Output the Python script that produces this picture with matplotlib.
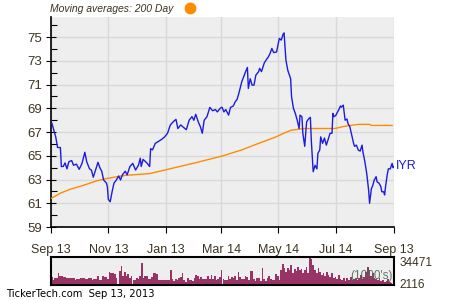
import matplotlib
matplotlib.use('Agg')
import matplotlib.pyplot as plt
from matplotlib.lines import Line2D
import numpy as np
import pandas as pd

# IYR price (days after Sep 13 2013, close)
price_days = [1, 2, 5, 7, 10, 11, 13, 15, 17, 19, 22, 24, 27, 30, 33, 36, 38, 41, 43, 45,
              47, 50, 52, 54, 56, 59, 60, 61, 63, 65, 67, 69, 72, 74, 76, 79, 81, 84, 87, 90,
              93, 95, 96, 98, 102, 105, 106, 108, 111, 114, 118, 121, 124, 127, 130, 133, 135, 138, 141, 144,
              147, 150, 152, 154, 157, 159, 161, 163, 166, 169, 172, 175, 177, 180, 182, 184, 186, 189, 191, 194,
              196, 198, 200, 203, 205, 207, 209, 210, 212, 214, 216, 218, 221, 222, 224, 227, 230, 231, 233, 235,
              237, 240, 243, 245, 247, 248, 250, 252, 255, 256, 258, 260, 262, 264, 265, 267, 268, 270, 272, 274,
              276, 277, 279, 281, 283, 284, 286, 287, 289, 291, 293, 295, 297, 299, 300, 301, 303, 306, 308, 309,
              311, 313, 315, 316, 318, 320, 322, 323, 325, 327, 329, 331, 332, 334, 336, 338, 339, 341, 342, 344,
              346, 347, 349, 351, 352, 354, 355, 356, 358, 359, 361, 363, 364, 365]
price = [67.73, 67.45, 66.6, 65.7, 65.7, 64.1, 64.1, 64.4, 63.9, 64.5, 64.6, 64.2, 64.3, 63.86, 64.36, 65.3, 64.5, 63.9, 63.8, 63.2,
         63.7, 64.45, 64.0, 63.7, 62.96, 62.7, 62.4, 61.33, 61.13, 61.97, 62.7, 62.9, 63.3, 62.96, 63.4, 63.7, 63.4, 64.1, 64.36, 63.8,
         64.2, 64.8, 64.1, 64.7, 64.4, 64.1, 65.6, 65.5, 66.05, 66.2, 66.4, 66.6, 66.9, 67.6, 67.87, 68.07, 67.3, 67.6, 67.4, 67.2,
         68.0, 68.3, 68.0, 68.5, 67.8, 67.45, 66.9, 68.0, 68.3, 69.08, 68.8, 68.9, 68.7, 69.0, 69.1, 68.7, 68.9, 68.43, 69.08, 69.2,
         69.55, 69.75, 70.3, 71.24, 71.66, 72.08, 72.45, 70.68, 71.5, 70.96, 70.96, 71.8, 72.1, 72.37, 72.1, 72.84, 73.2, 73.3, 73.6, 74.05,
         73.7, 73.75, 74.9, 74.75, 75.25, 75.36, 73.06, 72.2, 71.5, 69.97, 69.0, 68.57, 68.0, 67.3, 68.43, 68.3, 66.9, 65.8, 67.87, 68.1,
         68.24, 66.3, 63.66, 64.2, 63.9, 65.2, 65.5, 66.6, 66.05, 66.5, 65.9, 66.4, 66.9, 66.9, 68.57, 68.3, 68.4, 68.85, 69.2, 69.1,
         69.27, 68.0, 68.1, 67.73, 67.45, 66.75, 66.05, 65.8, 65.9, 65.48, 65.4, 65.9, 65.3, 64.5, 63.5, 62.1, 61.0, 62.26, 62.4, 62.96,
         63.24, 62.8, 62.7, 62.4, 61.97, 61.97, 61.7, 62.4, 63.5, 63.9, 63.9, 64.36, 64.0, 64.1]

# 200 day moving average
ma_days = [0, 10, 20, 34, 49, 60, 79, 105, 121, 153, 183, 203, 221, 238, 249, 256, 270, 302, 313, 327, 339, 341, 363]
ma = [61.4, 61.85, 62.17, 62.5, 62.9, 63.1, 63.35, 63.5, 63.8, 64.4, 65.0, 65.5, 66.05, 66.55, 66.94, 67.17, 67.3, 67.3, 67.5, 67.65, 67.65, 67.56, 67.56]

# volume in 1000's, spread evenly over the year
volume = [9.8, 5.8, 8.2, 8.2, 14.8, 11, 11, 9.5, 9.5, 9, 9, 8.6, 8.6, 8.6, 6.2, 7.4, 7.4, 8.2, 8.2, 8.2,
          7.4, 7.4, 9, 9, 6.5, 7.8, 7.8, 11.5, 6.5, 6.5, 11, 9.8, 9.8, 7.4, 16.4, 15.2, 15.2, 14, 8.2, 0.9,
          17.2, 23.4, 11.5, 16.4, 11.5, 13.1, 8.2, 11.5, 6.5, 6.5, 9, 7.4, 11.5, 27.1, 8.2, 11, 11, 7.4, 7.4, 10.2,
          14.4, 14.4, 14, 6.2, 5.8, 5.8, 6.5, 6.5, 6.5,
          6.2, 18.5, 7.4, 4.9, 7, 6.2, 8.2, 10.2, 14.8, 5.8, 3.3, 8.2, 6.2, 6.2, 4.9, 8.2, 12.3, 11.5, 7.4, 9.8,
          7.4, 7.4, 7.4, 11.5, 7.4, 12.3, 7.4, 11.5, 6.2, 7.4, 9.8, 18.5, 7.4, 6.2, 6.2, 11.5, 7.4, 10.2, 8.2, 11,
          6.2, 16.4, 9.8, 7.4, 7.4, 11.5, 9.8, 6.2, 17.2, 17.2, 7.4, 4.9, 8.2, 8.2, 4.9, 20.5, 7.4, 4.9, 8.2, 11.5,
          7.4, 6.2, 6.2, 13.1,
          11.5, 6.2, 18.5, 25.5, 20.5, 15.6, 21.3, 18.5, 24.6, 14.4, 19.7, 17.2, 22.6, 18.5, 19.7, 14.4, 18.5, 22.6, 14.4, 34.471,
          32, 24.6, 18.5, 14.4, 20.5, 15.6, 12.3, 14.4, 11.5, 16.4, 12.3, 10.2, 14.4, 8.2, 10.2, 7.4, 12.3, 7.4, 6.2, 8.2,
          4.9, 8.2, 6.2, 10.2, 6.2, 7.4, 9, 6.2, 8.2, 12.3, 7.4, 10.2, 16.4, 22.6, 18.5, 11.5, 14.4, 8.2, 7.4, 6.2,
          9, 4.9, 6.2, 4.1, 4.9, 7.4, 4.1, 2.1, 0.8, 0.5]

tick_dates = ['2013-09-13', '2013-11-13', '2014-01-13', '2014-03-13', '2014-05-13', '2014-07-13', '2014-09-13']
tick_labels = ['Sep 13', 'Nov 13', 'Jan 13', 'Mar 14', 'May 14', 'Jul 14', 'Sep 13']
y_ticks = [59, 61, 63, 65, 67, 69, 71, 73, 75]

start = pd.Timestamp('2013-09-13')
end = pd.Timestamp('2014-09-13')
price_dates = start + pd.to_timedelta(price_days, unit='D')
ma_dates = start + pd.to_timedelta(ma_days, unit='D')
vol_dates = pd.date_range(start, end, periods=len(volume))
bar_w = (end - start).days / len(volume)

txt = '#3c3220'
bg = '#eeeeee'

fig = plt.figure(figsize=(4.5, 3), dpi=100)
ax = fig.add_axes([51/450, 1 - 227/300, 343/450, 210/300])
ax.set_facecolor(bg)
ax.plot(ma_dates, ma, color='#ff8c00', lw=1.0, zorder=3)
ax.plot(price_dates, price, color='#1c1ce0', lw=1.0, zorder=4)

ax.set_xlim(start, end)
ax.set_ylim(59, 76.7)
ax.set_yticks(y_ticks)
ax.set_yticks(range(60, 77, 2), minor=True)
ax.set_xticks(pd.to_datetime(tick_dates))
ax.set_xticklabels(tick_labels)
ax.set_xticks(pd.date_range('2013-10-13', '2014-08-13', freq='2MS') + pd.Timedelta(days=12), minor=True)
ax.grid(True, which='major', color='#d9d9d9', lw=1.0)
for s in ['top', 'right']:
    ax.spines[s].set_visible(False)
for s in ['left', 'bottom']:
    ax.spines[s].set_color('black')
    ax.spines[s].set_linewidth(1.2)
ax.tick_params(axis='y', which='major', direction='inout', length=7, width=0.8, colors='black',
               labelcolor=txt, labelsize=9.5, pad=3)
ax.tick_params(axis='y', which='minor', direction='in', length=4, width=0.8, colors='black')
ax.tick_params(axis='x', which='both', direction='out', length=4, width=0.8, colors='black',
               labelcolor=txt, labelsize=9, pad=8)
for lab in ax.get_xticklabels() + ax.get_yticklabels():
    lab.set_family('Liberation Sans')

ax.text(1.006, price[-1], 'IYR', transform=ax.get_yaxis_transform(), color='#1c1ce0',
        fontsize=9, family='Liberation Sans', va='center', ha='left')

fig.text(50/450, 1 - 9/300, 'Moving averages: 200 Day', style='italic', color=txt,
         fontsize=7.5, family='Liberation Sans', va='center', ha='left')
fig.add_artist(Line2D([190/450], [1 - 8/300], marker='o', markersize=7.5, color='#ff8c00',
                      transform=fig.transFigure))

# volume panel
vax = fig.add_axes([51/450, 1 - 285/300, 343/450, 28/300])
vax.set_facecolor(bg)
vax.bar(vol_dates, volume, width=bar_w, color='#993366', align='edge', lw=0)
vax.set_xlim(start, end)
vax.set_ylim(0, max(volume))
vax.set_xticks([])
vax.yaxis.tick_right()
vax.set_yticks([2.116, max(volume)])
vax.set_yticklabels(['2116', '34471'])
vax.tick_params(axis='y', length=0, labelcolor=txt, labelsize=8.5, pad=4)
for lab in vax.get_yticklabels():
    lab.set_family('Liberation Sans')
vax.get_yticklabels()[1].set_va('top')
for s in vax.spines.values():
    s.set_linewidth(1.5)
    s.set_color('black')
vax.text(0.995, 0.12, "(1000's)", transform=vax.transAxes, ha='right', va='bottom',
         color='#4a6b5a', fontsize=8.5, family='Liberation Sans', alpha=0.9)

fig.text(6/450, 1 - 294/300, 'TickerTech.com  Sep 13, 2013', color='black', fontsize=7.2,
         family='DejaVu Sans', va='center', ha='left')

fig.savefig('out.png', dpi=100)
plt.close(fig)
